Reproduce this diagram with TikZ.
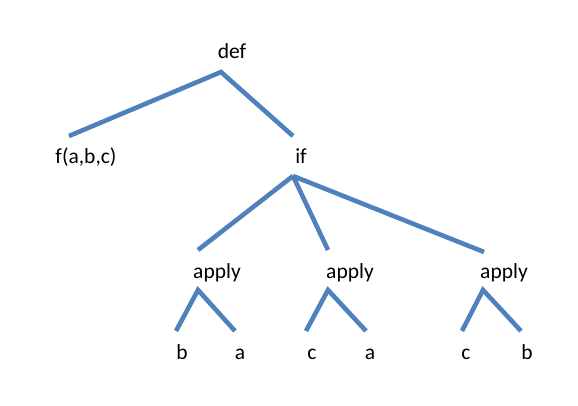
\documentclass[tikz,border=0pt]{standalone}
\usepackage{fontspec}
\setmainfont{Carlito}
\definecolor{edgeblue}{HTML}{4F81BD}
\tikzset{
  lbl/.style={inner sep=0pt, font=\fontsize{21.5}{24}\selectfont, anchor=base},
  edge/.style={draw=edgeblue, line width=4.6pt, line join=miter},
}
\begin{document}
\begin{tikzpicture}[x=1pt,y=-1pt]
\useasboundingbox (0,0) rectangle (578,406);
% labels (base anchors)
\node[lbl] (def) at (232,59) {def};
\node[lbl] (f) at (86,164) {f(a,b,c)};
\node[lbl] (if) at (301,164) {if};
\node[lbl] (ap1) at (217,278) {apply};
\node[lbl] (ap2) at (350,278) {apply};
\node[lbl] (ap3) at (504,278) {apply};
\node[lbl] (l1) at (182,359) {b};
\node[lbl] (l2) at (240,359) {a};
\node[lbl] (l3) at (312,359) {c};
\node[lbl] (l4) at (370,359) {a};
\node[lbl] (l5) at (466,359) {c};
\node[lbl] (l6) at (527,359) {b};
% connector end points
\coordinate (defA) at (221,72);
\coordinate (fT) at (69,136);
\coordinate (ifT) at (293,136);
\coordinate (ifA) at (293,176);
\coordinate (ap1T) at (198,250);
\coordinate (ap2T) at (328,250);
\coordinate (ap3T) at (484,252);
\coordinate (ap1A) at (198,290);
\coordinate (ap2A) at (328,290);
\coordinate (ap3A) at (483,290);
\coordinate (l1T) at (176,331);
\coordinate (l2T) at (235,331);
\coordinate (l3T) at (306,331);
\coordinate (l4T) at (366,331);
\coordinate (l5T) at (462,331);
\coordinate (l6T) at (521,331);
% connectors
\draw[edge] (fT) -- (defA) -- (ifT);
\draw[edge] (ifA) -- (ap1T);
\draw[edge] (ifA) -- (ap2T);
\draw[edge] (ifA) -- (ap3T);
\draw[edge] (l1T) -- (ap1A) -- (l2T);
\draw[edge] (l3T) -- (ap2A) -- (l4T);
\draw[edge] (l5T) -- (ap3A) -- (l6T);
\end{tikzpicture}
\end{document}
